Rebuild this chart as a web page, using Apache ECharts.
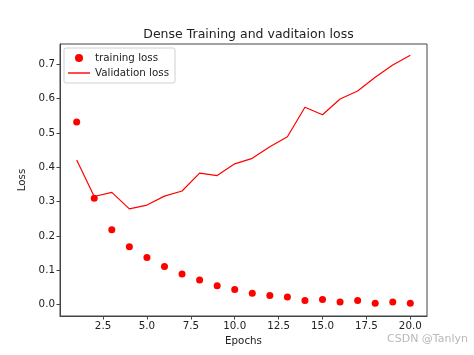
<!DOCTYPE html>
<html><head><meta charset="utf-8">
<script src="https://cdn.jsdelivr.net/npm/echarts@6/dist/echarts.min.js"></script>
<style>html,body{margin:0;padding:0;background:#fff}#c{width:474px;height:355px}</style>
</head><body><div id="c"></div>
<script>
const epochs = [1,2,3,4,5,6,7,8,9,10,11,12,13,14,15,16,17,18,19,20];
const trainingLoss = [0.532,0.310,0.218,0.169,0.137,0.111,0.089,0.072,0.055,0.044,0.033,0.027,0.022,0.012,0.015,0.008,0.012,0.004,0.008,0.004];
const validationLoss = [0.421,0.315,0.327,0.279,0.290,0.316,0.331,0.383,0.376,0.410,0.426,0.460,0.489,0.575,0.553,0.599,0.622,0.662,0.698,0.726];
const xTicks = [2.5,5.0,7.5,10.0,12.5,15.0,17.5,20.0];
const yTicks = [0.0,0.1,0.2,0.3,0.4,0.5,0.6,0.7];

const font = 'DejaVu Sans';
const chart = echarts.init(document.getElementById('c'));
chart.setOption({
  animation: false,
  title: {text: 'Dense Training and vaditaion loss', left: 243.5, textAlign: 'center', top: 23,
    textStyle: {fontFamily: font, fontSize: 12.5, fontWeight: 'normal', color: '#222'}},
  legend: {
    orient: 'vertical', left: 64, top: 48, padding: [5, 6, 5, 4], itemGap: 5,
    itemWidth: 22, itemHeight: 8,
    borderColor: '#d0d0d0', borderWidth: 1, borderRadius: 2,
    textStyle: {fontFamily: font, fontSize: 10.3, color: '#222'},
    data: [{name: 'training loss', icon: 'circle'},
           {name: 'Validation loss', icon: 'path://M0,0H22V1.4H0Z'}]
  },
  grid: {left: 60, right: 47, top: 44, bottom: 39, show: true, borderColor: '#444', borderWidth: 1},
  xAxis: {
    type: 'value', min: 0.05, max: 20.95,
    name: 'Epochs', nameLocation: 'middle', nameGap: 20,
    nameTextStyle: {fontFamily: font, fontSize: 10.3, color: '#222'},
    axisLine: {show: true, onZero: false, lineStyle: {color: '#444'}},
    axisTick: {show: true, length: 3.5, customValues: xTicks, lineStyle: {color: '#444'}},
    axisLabel: {customValues: xTicks, margin: 5, fontFamily: font, fontSize: 10.3, color: '#222',
      formatter: v => v.toFixed(1)},
    splitLine: {show: false}
  },
  yAxis: {
    type: 'value', min: -0.033, max: 0.759,
    name: 'Loss', nameLocation: 'middle', nameGap: 30,
    nameTextStyle: {fontFamily: font, fontSize: 10.3, color: '#222'},
    axisLine: {show: true, onZero: false, lineStyle: {color: '#444'}},
    axisTick: {show: true, length: 3.5, customValues: yTicks, lineStyle: {color: '#444'}},
    axisLabel: {customValues: yTicks, margin: 5, fontFamily: font, fontSize: 10.3, color: '#222',
      formatter: v => v.toFixed(1)},
    splitLine: {show: false}
  },
  series: [
    {name: 'training loss', type: 'scatter', symbol: 'circle', symbolSize: 7,
     itemStyle: {color: '#ff0000', opacity: 1},
     data: epochs.map((e, i) => [e, trainingLoss[i]])},
    {name: 'Validation loss', type: 'line', symbol: 'none', showSymbol: false,
     lineStyle: {color: '#ff0000', width: 1.2}, itemStyle: {color: '#ff0000'},
     data: epochs.map((e, i) => [e, validationLoss[i]])}
  ],
  graphic: [{type: 'text', left: 387, top: 334,
    style: {text: 'CSDN @Tanlyn', fontFamily: font, fontSize: 11, fill: '#b8b8b8'}}]
});
</script></body></html>
